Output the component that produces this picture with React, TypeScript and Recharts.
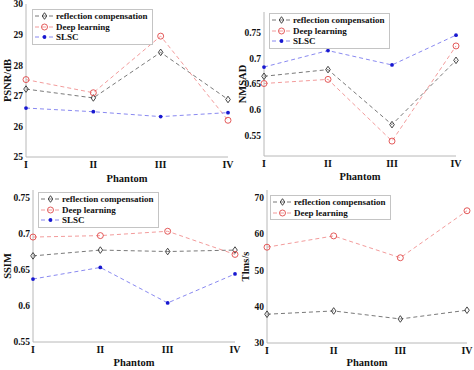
import React from 'react';
import { LineChart, Line, XAxis, YAxis, Legend } from 'recharts';

const phantoms = ['I', 'II', 'III', 'IV'];

const psnrReflection = [27.22, 26.93, 28.42, 26.88];
const psnrDeep = [27.53, 27.1, 28.95, 26.2];
const psnrSlsc = [26.6, 26.48, 26.32, 26.45];
const psnrTicks = [25, 26, 27, 28, 29, 30];

const nmsadReflection = [0.665, 0.678, 0.571, 0.696];
const nmsadDeep = [0.651, 0.659, 0.539, 0.724];
const nmsadSlsc = [0.683, 0.715, 0.687, 0.745];
const nmsadTicks = [0.55, 0.6, 0.65, 0.7, 0.75];

const ssimReflection = [0.669, 0.677, 0.675, 0.677];
const ssimDeep = [0.695, 0.697, 0.703, 0.671];
const ssimSlsc = [0.637, 0.653, 0.604, 0.644];
const ssimTicks = [0.55, 0.6, 0.65, 0.7, 0.75];

const timeReflection = [37.9, 38.8, 36.6, 39.0];
const timeDeep = [56.3, 59.4, 53.4, 66.3];
const timeTicks = [30, 40, 50, 60, 70];

const FONT = "'Liberation Serif', 'Times New Roman', serif";
const AXIS_GRAY = '#b8b8b8';

const STYLES: Record<string, { line: string; marker: string; name: string }> = {
  reflection: { line: '#6a6a6a', marker: '#333333', name: 'reflection compensation' },
  deep: { line: '#f09090', marker: '#e04848', name: 'Deep learning' },
  slsc: { line: '#7c7cee', marker: '#1818d0', name: 'SLSC' },
};

function drawMarker(key: string, cx: number, cy: number, k?: any) {
  if (key === 'reflection') {
    return (
      <path
        key={k}
        d={`M${cx},${cy - 3.3}L${cx + 2.3},${cy}L${cx},${cy + 3.3}L${cx - 2.3},${cy}Z`}
        fill="none"
        stroke={STYLES.reflection.marker}
        strokeWidth={0.9}
      />
    );
  }
  if (key === 'deep') {
    return <circle key={k} cx={cx} cy={cy} r={3} fill="none" stroke={STYLES.deep.marker} strokeWidth={0.9} />;
  }
  return <circle key={k} cx={cx} cy={cy} r={1.9} fill={STYLES.slsc.marker} stroke="none" />;
}

const makeDot = (key: string) => (props: any) => {
  const { cx, cy, index } = props;
  if (cx == null || cy == null) return <g key={index} />;
  return drawMarker(key, cx, cy, index);
};

const LegendBox = (props: any) => {
  const keys: string[] = props.order || [];
  return (
    <div
      style={{
        border: '1px solid #c4c4c4',
        background: '#fff',
        padding: '1px 4px 1px 1px',
        fontFamily: FONT,
        fontWeight: 'bold',
        fontSize: 9,
        lineHeight: '10.5px',
        color: '#111',
        whiteSpace: 'nowrap',
      }}
    >
      {keys.map((key) => {
        const st = STYLES[key];
        return (
          <div key={key} style={{ display: 'flex', alignItems: 'center', height: 10.5 }}>
            <svg width={21} height={10} style={{ marginRight: 1 }}>
              <line x1={1} y1={5} x2={20} y2={5} stroke={st.line} strokeWidth={0.9} strokeDasharray="4 3" />
              {drawMarker(key, 10.5, 5)}
            </svg>
            <span>{st.name}</span>
          </div>
        );
      })}
    </div>
  );
};

const AxisTitle = (props: any) => {
  const { tx, ty, rotate, text } = props;
  return (
    <text
      x={tx}
      y={ty}
      textAnchor="middle"
      dominantBaseline="central"
      transform={rotate ? `rotate(-90 ${tx} ${ty})` : undefined}
      fontFamily={FONT}
      fontWeight="bold"
      fontSize={10.5}
      fill="#111"
    >
      {text}
    </text>
  );
};

type PanelProps = {
  left: number;
  top: number;
  width: number;
  height: number;
  margin: { top: number; right: number; bottom: number; left: number };
  yWidth: number;
  xHeight: number;
  domain: [number, number];
  ticks: number[];
  yLabel: string;
  yLabelX: number;
  xLabelY: number;
  series: { key: string; values: number[] }[];
  legendLeft: number;
  legendTop: number;
};

function Panel(p: PanelProps) {
  const data = phantoms.map((ph, i) => {
    const row: any = { phantom: ph };
    p.series.forEach((s) => {
      row[s.key] = s.values[i];
    });
    return row;
  });
  const plotLeft = p.margin.left + p.yWidth;
  const plotRight = p.width - p.margin.right;
  const plotTop = p.margin.top;
  const plotBottom = p.height - p.margin.bottom - p.xHeight;
  const yMid = (plotTop + plotBottom) / 2;
  const xMid = (plotLeft + plotRight) / 2;

  const tickStyle = { fontFamily: FONT, fontWeight: 'bold' as const, fontSize: 9.5, fill: '#111' };

  return (
    <div style={{ position: 'absolute', left: p.left, top: p.top }}>
      <LineChart width={p.width} height={p.height} data={data} margin={p.margin} style={{ overflow: 'visible' }}>
        <XAxis
          dataKey="phantom"
          type="category"
          axisLine={{ stroke: AXIS_GRAY }}
          tickLine={false}
          tickSize={0}
          tickMargin={4}
          height={p.xHeight}
          tick={{ ...tickStyle, fontSize: 10 }}
          interval={0}
          label={<AxisTitle tx={xMid} ty={p.xLabelY} text="Phantom" />}
        />
        <YAxis
          type="number"
          domain={p.domain}
          ticks={p.ticks}
          allowDataOverflow
          interval={0}
          axisLine={{ stroke: AXIS_GRAY }}
          tickLine={false}
          tickSize={0}
          tickMargin={3}
          width={p.yWidth}
          tick={tickStyle}
          label={<AxisTitle tx={p.yLabelX} ty={yMid} rotate text={p.yLabel} />}
        />
        <Legend
          layout="vertical"
          align="center"
          verticalAlign="middle"
          content={<LegendBox order={p.series.map((s) => s.key)} />}
          wrapperStyle={{ left: p.legendLeft, top: p.legendTop, width: 'auto', height: 'auto' }}
        />
        {p.series.map((s) => (
          <Line
            key={s.key}
            dataKey={s.key}
            name={STYLES[s.key].name}
            type="linear"
            stroke={STYLES[s.key].line}
            strokeWidth={0.9}
            strokeDasharray="4 3"
            dot={makeDot(s.key)}
            activeDot={false}
            isAnimationActive={false}
          />
        ))}
      </LineChart>
    </div>
  );
}

export default function App() {
  return (
    <div style={{ position: 'absolute', left: 0, top: 0, width: 474, height: 370, background: '#fff', overflow: 'hidden' }}>
      <Panel
        left={0}
        top={0}
        width={237}
        height={185}
        margin={{ top: 4, right: 9, bottom: 0, left: 0 }}
        yWidth={26}
        xHeight={28}
        domain={[25, 30]}
        ticks={psnrTicks}
        yLabel="PSNR/dB"
        yLabelX={7}
        xLabelY={178}
        series={[
          { key: 'reflection', values: psnrReflection },
          { key: 'deep', values: psnrDeep },
          { key: 'slsc', values: psnrSlsc },
        ]}
        legendLeft={32}
        legendTop={9}
      />
      <Panel
        left={237}
        top={0}
        width={237}
        height={185}
        margin={{ top: 12, right: 18, bottom: 0, left: 0 }}
        yWidth={27}
        xHeight={29}
        domain={[0.51, 0.79]}
        ticks={nmsadTicks}
        yLabel="NMSAD"
        yLabelX={5}
        xLabelY={176}
        series={[
          { key: 'reflection', values: nmsadReflection },
          { key: 'deep', values: nmsadDeep },
          { key: 'slsc', values: nmsadSlsc },
        ]}
        legendLeft={32}
        legendTop={13}
      />
      <Panel
        left={0}
        top={185}
        width={245}
        height={185}
        margin={{ top: 5, right: 10, bottom: 0, left: 0 }}
        yWidth={33}
        xHeight={28}
        domain={[0.55, 0.76]}
        ticks={ssimTicks}
        yLabel="SSIM"
        yLabelX={7}
        xLabelY={177.5}
        series={[
          { key: 'reflection', values: ssimReflection },
          { key: 'deep', values: ssimDeep },
          { key: 'slsc', values: ssimSlsc },
        ]}
        legendLeft={38}
        legendTop={7}
      />
      <Panel
        left={237}
        top={185}
        width={237}
        height={185}
        margin={{ top: 5, right: 7, bottom: 0, left: 0 }}
        yWidth={30}
        xHeight={27}
        domain={[30, 72]}
        ticks={timeTicks}
        yLabel="Tlms/s"
        yLabelX={8}
        xLabelY={177}
        series={[
          { key: 'reflection', values: timeReflection },
          { key: 'deep', values: timeDeep },
        ]}
        legendLeft={33}
        legendTop={10}
      />
    </div>
  );
}
